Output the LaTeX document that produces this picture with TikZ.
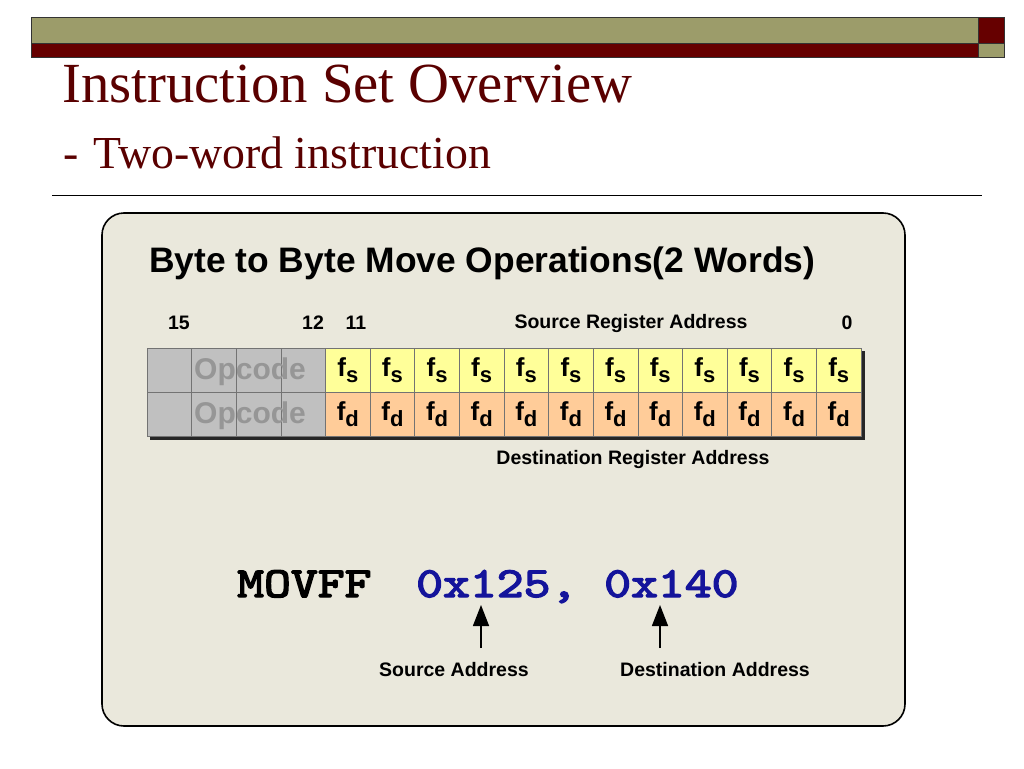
\documentclass[tikz,border=0pt]{standalone}
\usepackage{fontspec}
\setmainfont{Liberation Serif}
\newfontfamily\arial{Liberation Sans}
\newfontfamily\courb[FakeBold=3]{lmmono10-regular.otf}
\usetikzlibrary{arrows.meta}
\definecolor{olive}{RGB}{156,156,106}
\definecolor{darkred}{RGB}{102,0,0}
\definecolor{titlered}{RGB}{90,0,0}
\definecolor{boxbg}{RGB}{234,232,220}
\definecolor{opgray}{RGB}{192,192,192}
\definecolor{srcyellow}{RGB}{255,255,153}
\definecolor{dstorange}{RGB}{255,204,153}
\definecolor{opText}{RGB}{150,150,150}
\definecolor{hexblue}{RGB}{20,20,155}
\tikzset{
  bar/.style={draw=black!80, line width=0.8pt},
  lbl/.style={font=\arial\bfseries\fontsize{19.5}{20}\selectfont, inner sep=0pt},
  cell/.style={draw=black!55, line width=0.7pt, minimum width=44.625pt, minimum height=44pt, inner sep=0pt, outer sep=0pt, anchor=north west, font=\arial\bfseries\fontsize{26}{26}\selectfont},
  optext/.style={font=\arial\bfseries\fontsize{30}{30}\selectfont, text=opText, inner sep=0pt},
  codetext/.style={font=\courb\fontsize{43}{43}\selectfont, inner sep=0pt},
  ptr/.style={line width=1.5pt, -{Triangle[length=21pt,width=16pt]}}
}
\newcommand{\fsub}[1]{\raisebox{-3pt}{f\raisebox{-6pt}{\fontsize{22}{22}\selectfont #1}}}
\newcommand{\wide}[1]{\scalebox{1.19}[1]{#1}}
\begin{document}
\begin{tikzpicture}[x=1pt,y=-1pt]
\useasboundingbox (0,0) rectangle (1024,768);
\fill[white] (0,0) rectangle (1024,768);
% top bars
\draw[bar, fill=olive] (31,17) rectangle (978,43);
\draw[bar, fill=darkred] (31,43) rectangle (978,57);
\draw[bar, fill=darkred] (978,17) rectangle (1004,43);
\draw[bar, fill=olive] (978,43) rectangle (1004,57);
% titles
\node[anchor=base west, inner sep=0pt, text=titlered, font=\fontsize{56.7}{60}\selectfont] (title) at (62,102) {Instruction Set Overview};
\node[anchor=base west, inner sep=0pt, text=titlered, font=\fontsize{45.8}{46}\selectfont] (subtitle) at (63,168) {-\hspace{15pt}Two-word instruction};
\draw[line width=1pt] (52,195.5) -- (982,195.5);
% main box
\draw[line width=1.6pt, fill=boxbg, rounded corners=22pt] (102,213) rectangle (905,726);
\node[anchor=base west, inner sep=0pt, font=\arial\bfseries\fontsize{35.4}{36}\selectfont] (heading) at (149,272) {Byte to Byte Move Operations(2 Words)};
% bit labels
\node[lbl] (b15) at (179,323) {15};
\node[lbl] (b12) at (313,323) {12};
\node[lbl] (b11) at (356,323) {11};
\node[lbl] (srcreg) at (631,323) {Source Register Address};
\node[lbl] (b0) at (847,323) {0};
% table shadow
\fill[black!85] (150,351) rectangle (864.5,439.5);
% cells
\foreach \i in {0,...,15} {
  \pgfmathsetmacro{\xx}{147+44.625*\i}
  \ifnum\i<4
    \node[cell, fill=opgray] (s\i) at (\xx,348) {};
    \node[cell, fill=opgray] (d\i) at (\xx,392) {};
  \else
    \node[cell, fill=srcyellow] (s\i) at (\xx,348) {\fsub{s}};
    \node[cell, fill=dstorange] (d\i) at (\xx,392) {\fsub{d}};
  \fi
}
\node[optext] (op1) at (250,372) {Opcode};
\node[optext] (op2) at (250,416) {Opcode};
\node[lbl] (dstreg) at (633,459) {Destination Register Address};
% instruction
\node[codetext, anchor=base west] (mnem) at (237,597) {\wide{MOVFF}};
\node[codetext, anchor=base west, text=hexblue] (ops) at (416,597) {\wide{0x125,\ 0x140}};
\node[lbl] (srcaddr) at (454,670) {Source Address};
\node[lbl] (dstaddr) at (715,670) {Destination Address};
\coordinate (sa0) at (481,648);
\coordinate (sa1) at (481,605);
\coordinate (da0) at (660,648);
\coordinate (da1) at (660,605);
\draw[ptr] (sa0) -- (sa1);
\draw[ptr] (da0) -- (da1);
\end{tikzpicture}
\end{document}
